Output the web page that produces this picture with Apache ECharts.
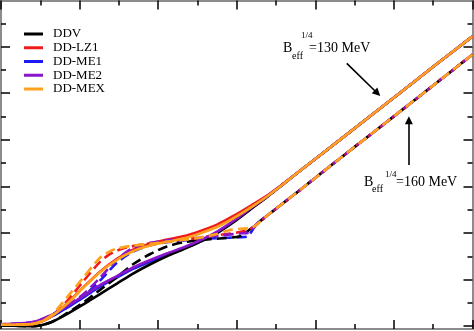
<!DOCTYPE html>
<html>
<head>
<meta charset="utf-8">
<style>
  html, body { margin: 0; padding: 0; background: #ffffff; }
  #chart { width: 474px; height: 331px; }
</style>
<script src="https://cdn.jsdelivr.net/npm/echarts@6/dist/echarts.min.js"></script>
</head>
<body>
<div id="chart"></div>
<script>
// Equation-of-state models
const models = ['DDV', 'DD-LZ1', 'DD-ME1', 'DD-ME2', 'DD-MEX'];

// B_eff^(1/4) = 130 MeV (solid curves)
const ddvSolid = [[0,0.02],[0.41,0.0],[0.63,0.08],[0.84,0.26],[1.05,0.47],[1.26,0.69],[1.48,0.92],[1.68,1.13],[1.90,1.33],[2.11,1.50],[2.32,1.65],[2.53,1.81],[2.75,2.0],[2.95,2.22],[3.17,2.50],[3.39,2.78],[3.6,3.06],[3.81,3.34],[4.32,4.01],[5.08,5.01],[5.54,5.62],[6,6.22]];
const lz1Solid = [[0,0.03],[0.41,0.05],[0.63,0.2],[0.84,0.49],[1.05,0.84],[1.26,1.17],[1.48,1.45],[1.68,1.64],[1.90,1.77],[2.11,1.86],[2.32,1.93],[2.53,2.04],[2.75,2.18],[2.95,2.36],[3.17,2.58],[3.39,2.81],[3.6,3.07],[3.81,3.34],[4.32,4.01],[5.08,5.01],[5.54,5.62],[6,6.22]];
const me1Solid = [[0,0.03],[0.41,0.06],[0.63,0.2],[0.84,0.40],[1.05,0.62],[1.26,0.85],[1.48,1.05],[1.68,1.23],[1.90,1.39],[2.11,1.53],[2.32,1.66],[2.53,1.81],[2.75,2.0],[2.95,2.23],[3.17,2.51],[3.39,2.78],[3.6,3.06],[3.81,3.34],[4.32,4.01],[5.08,5.01],[5.54,5.62],[6,6.22]];
const me2Solid = [[0,0.04],[0.41,0.09],[0.63,0.23],[0.84,0.43],[1.05,0.65],[1.26,0.88],[1.48,1.08],[1.68,1.26],[1.90,1.42],[2.11,1.56],[2.32,1.69],[2.53,1.84],[2.75,2.03],[2.95,2.25],[3.17,2.52],[3.39,2.79],[3.6,3.06],[3.81,3.34],[4.32,4.01],[5.08,5.01],[5.54,5.62],[6,6.22]];
const mexSolid = [[0,0.03],[0.41,0.05],[0.63,0.2],[0.84,0.48],[1.05,0.83],[1.26,1.16],[1.48,1.43],[1.68,1.61],[1.90,1.73],[2.11,1.81],[2.32,1.88],[2.53,1.99],[2.75,2.13],[2.95,2.31],[3.17,2.54],[3.39,2.79],[3.6,3.06],[3.81,3.34],[4.32,4.01],[5.08,5.01],[5.54,5.62],[6,6.22]];

// B_eff^(1/4) = 160 MeV (dashed curves)
const ddvDash = [[0,0.02],[0.41,0.0],[0.63,0.08],[0.84,0.28],[1.05,0.51],[1.26,0.78],[1.48,1.06],[1.68,1.33],[1.90,1.55],[2.11,1.71],[2.32,1.80],[2.53,1.85],[2.75,1.88],[3.04,1.93],[3.17,2.08],[3.4,2.39],[3.81,2.93],[4.32,3.61],[5.08,4.61],[5.54,5.22],[6,5.83]];
const lz1Dash = [[0,0.03],[0.41,0.05],[0.63,0.2],[0.84,0.54],[1.05,0.97],[1.26,1.38],[1.39,1.55],[1.55,1.67],[1.75,1.74],[1.90,1.78],[2.11,1.82],[2.32,1.86],[2.53,1.90],[2.75,1.95],[3.04,2.02],[3.17,2.08],[3.4,2.39],[3.81,2.93],[4.32,3.61],[5.08,4.61],[5.54,5.22],[6,5.83]];
const me1Dash = [[0,0.03],[0.41,0.06],[0.63,0.2],[0.84,0.40],[1.05,0.64],[1.26,0.98],[1.48,1.37],[1.68,1.60],[1.90,1.74],[2.11,1.80],[2.32,1.84],[2.53,1.87],[2.75,1.89],[3.04,1.91],[3.14,1.93],[3.25,2.19],[3.4,2.39],[3.81,2.93],[4.32,3.61],[5.08,4.61],[5.54,5.22],[6,5.83]];
const me2Dash = [[0,0.04],[0.41,0.09],[0.63,0.23],[0.84,0.44],[1.05,0.69],[1.26,1.04],[1.48,1.44],[1.68,1.68],[1.90,1.79],[2.11,1.84],[2.32,1.87],[2.53,1.90],[2.75,1.94],[3.04,1.99],[3.17,2.02],[3.25,2.19],[3.4,2.39],[3.81,2.93],[4.32,3.61],[5.08,4.61],[5.54,5.22],[6,5.83]];
const mexDash = [[0,0.03],[0.41,0.05],[0.63,0.22],[0.84,0.62],[1.05,1.05],[1.26,1.47],[1.39,1.61],[1.48,1.67],[1.68,1.73],[1.90,1.77],[2.11,1.81],[2.32,1.85],[2.53,1.90],[2.75,1.98],[2.90,2.06],[3.04,2.09],[3.2,2.12],[3.4,2.39],[3.81,2.93],[4.32,3.61],[5.08,4.61],[5.54,5.22],[6,5.83]];

const solidSets = [ddvSolid, lz1Solid, me1Solid, me2Solid, mexSolid];
const dashSets = [ddvDash, lz1Dash, me1Dash, me2Dash, mexDash];

// Axis ticks (no labels are drawn)
const yMajorTicks = [0, 1, 2, 3, 4, 5, 6];
const yMinorTicks = [0.5, 1.5, 2.5, 3.5, 4.5, 5.5, 6.5];

// Arrow annotations [from, to]
const arrow130 = [[4.40, 5.64], [4.79, 5.0]];
const arrow160 = [[5.19, 3.46], [5.19, 4.42]];
const label130Anchor = [3.59, 5.86];
const label160Anchor = [4.62, 2.98];

const palette = ['#000000', '#f01c1c', '#1c1cf2', '#8a14c8', '#ffa11c'];
const dashOffsets = [0, 4, 8, 5, 0];
// stacking order of the models (DD-ME1 lowest, DD-MEX on top)
const zOrder = [2, 3, 1, 4, 5];

const frameColor = '#8c8c8c';
const tickColor = '#000000';

function xAxisCfg(pos) {
  return {
    type: 'value', position: pos, min: 0, max: 6, interval: 1,
    axisLine: { show: true, onZero: false, lineStyle: { color: frameColor, width: 2 } },
    axisTick: { show: true, inside: true, length: 9, lineStyle: { color: tickColor, width: 1.5 } },
    minorTick: { show: true, splitNumber: 2, length: 5, lineStyle: { color: tickColor, width: 1.5 } },
    axisLabel: { show: false }, splitLine: { show: false }, minorSplitLine: { show: false }
  };
}
function yAxisCfg(pos, ticks, len, showLine) {
  return {
    type: 'value', position: pos, min: -0.06, max: 6.99,
    axisLine: { show: showLine, onZero: false, lineStyle: { color: frameColor, width: 2 } },
    axisTick: { show: true, inside: true, length: len, customValues: ticks, lineStyle: { color: tickColor, width: 1.5 } },
    axisLabel: { show: false }, splitLine: { show: false }
  };
}

const lineBase = { type: 'line', xAxisIndex: 0, yAxisIndex: 0, showSymbol: false, symbol: 'none', smooth: 0.25 };
const series = [];
models.forEach((name, i) => {
  series.push(Object.assign({}, lineBase, {
    name, data: solidSets[i], color: palette[i],
    lineStyle: { color: palette[i], width: 2.6 }, z: 2 + zOrder[i]
  }));
});
models.forEach((name, i) => {
  series.push(Object.assign({}, lineBase, {
    name, data: dashSets[i], color: palette[i],
    lineStyle: { color: palette[i], width: 2.6, type: [10, 5], dashOffset: dashOffsets[i] },
    z: 2 + zOrder[i]
  }));
});
// arrows
series.push({
  type: 'line', data: [], xAxisIndex: 0, yAxisIndex: 0, silent: true, z: 20,
  markLine: {
    silent: true, symbol: ['none', 'triangle'], symbolSize: 8,
    label: { show: false },
    lineStyle: { color: '#000', width: 1.6, type: 'solid' },
    itemStyle: { color: '#000' },
    data: [
      [{ coord: arrow130[0] }, { coord: arrow130[1] }],
      [{ coord: arrow160[0] }, { coord: arrow160[1] }]
    ]
  }
});

const chart = echarts.init(document.getElementById('chart'), null, { renderer: 'canvas' });
chart.setOption({
  animation: false,
  backgroundColor: '#ffffff',
  grid: { left: 1, right: 1.5, top: 0.5, bottom: 2, containLabel: false },
  legend: {
    data: models, orient: 'vertical', left: 24, top: 27.5, padding: 0,
    icon: 'rect', itemWidth: 19, itemHeight: 3, itemGap: 0.75,
    textStyle: { fontFamily: 'Liberation Serif', fontSize: 13, color: '#000', padding: [0, 0, 0, 5] },
    selectedMode: false
  },
  xAxis: [xAxisCfg('bottom'), xAxisCfg('top')],
  yAxis: [
    yAxisCfg('left', yMajorTicks, 9, true),
    yAxisCfg('right', yMajorTicks, 9, true),
    yAxisCfg('left', yMinorTicks, 5, false),
    yAxisCfg('right', yMinorTicks, 5, false)
  ],
  series
});

// B_eff^{1/4} labels with sub- and superscripts
function labelGroup(anchor, offs, rest) {
  const p = chart.convertToPixel({ xAxisIndex: 0, yAxisIndex: 0 }, anchor);
  const font = 'Liberation Serif';
  const mk = (text, dx, dy, size) => ({
    type: 'text', x: p[0] + dx, y: p[1] + dy, silent: true,
    style: { text, fill: '#000', font: size + 'px "' + font + '"', align: 'left', verticalAlign: 'middle' }
  });
  return [
    mk('B', 0, -5, 14),
    mk('eff', offs.eff[0], offs.eff[1], 10),
    mk('1/4', offs.pow[0], offs.pow[1], 9),
    mk(rest, offs.rest[0], -5, 14)
  ];
}
chart.setOption({
  graphic: [
    ...labelGroup(label130Anchor, { eff: [9, 3], pow: [18, -18], rest: [26] }, '=130 MeV'),
    ...labelGroup(label160Anchor, { eff: [8, 2.5], pow: [21, -13], rest: [32] }, '=160 MeV')
  ]
});
</script>
</body>
</html>
